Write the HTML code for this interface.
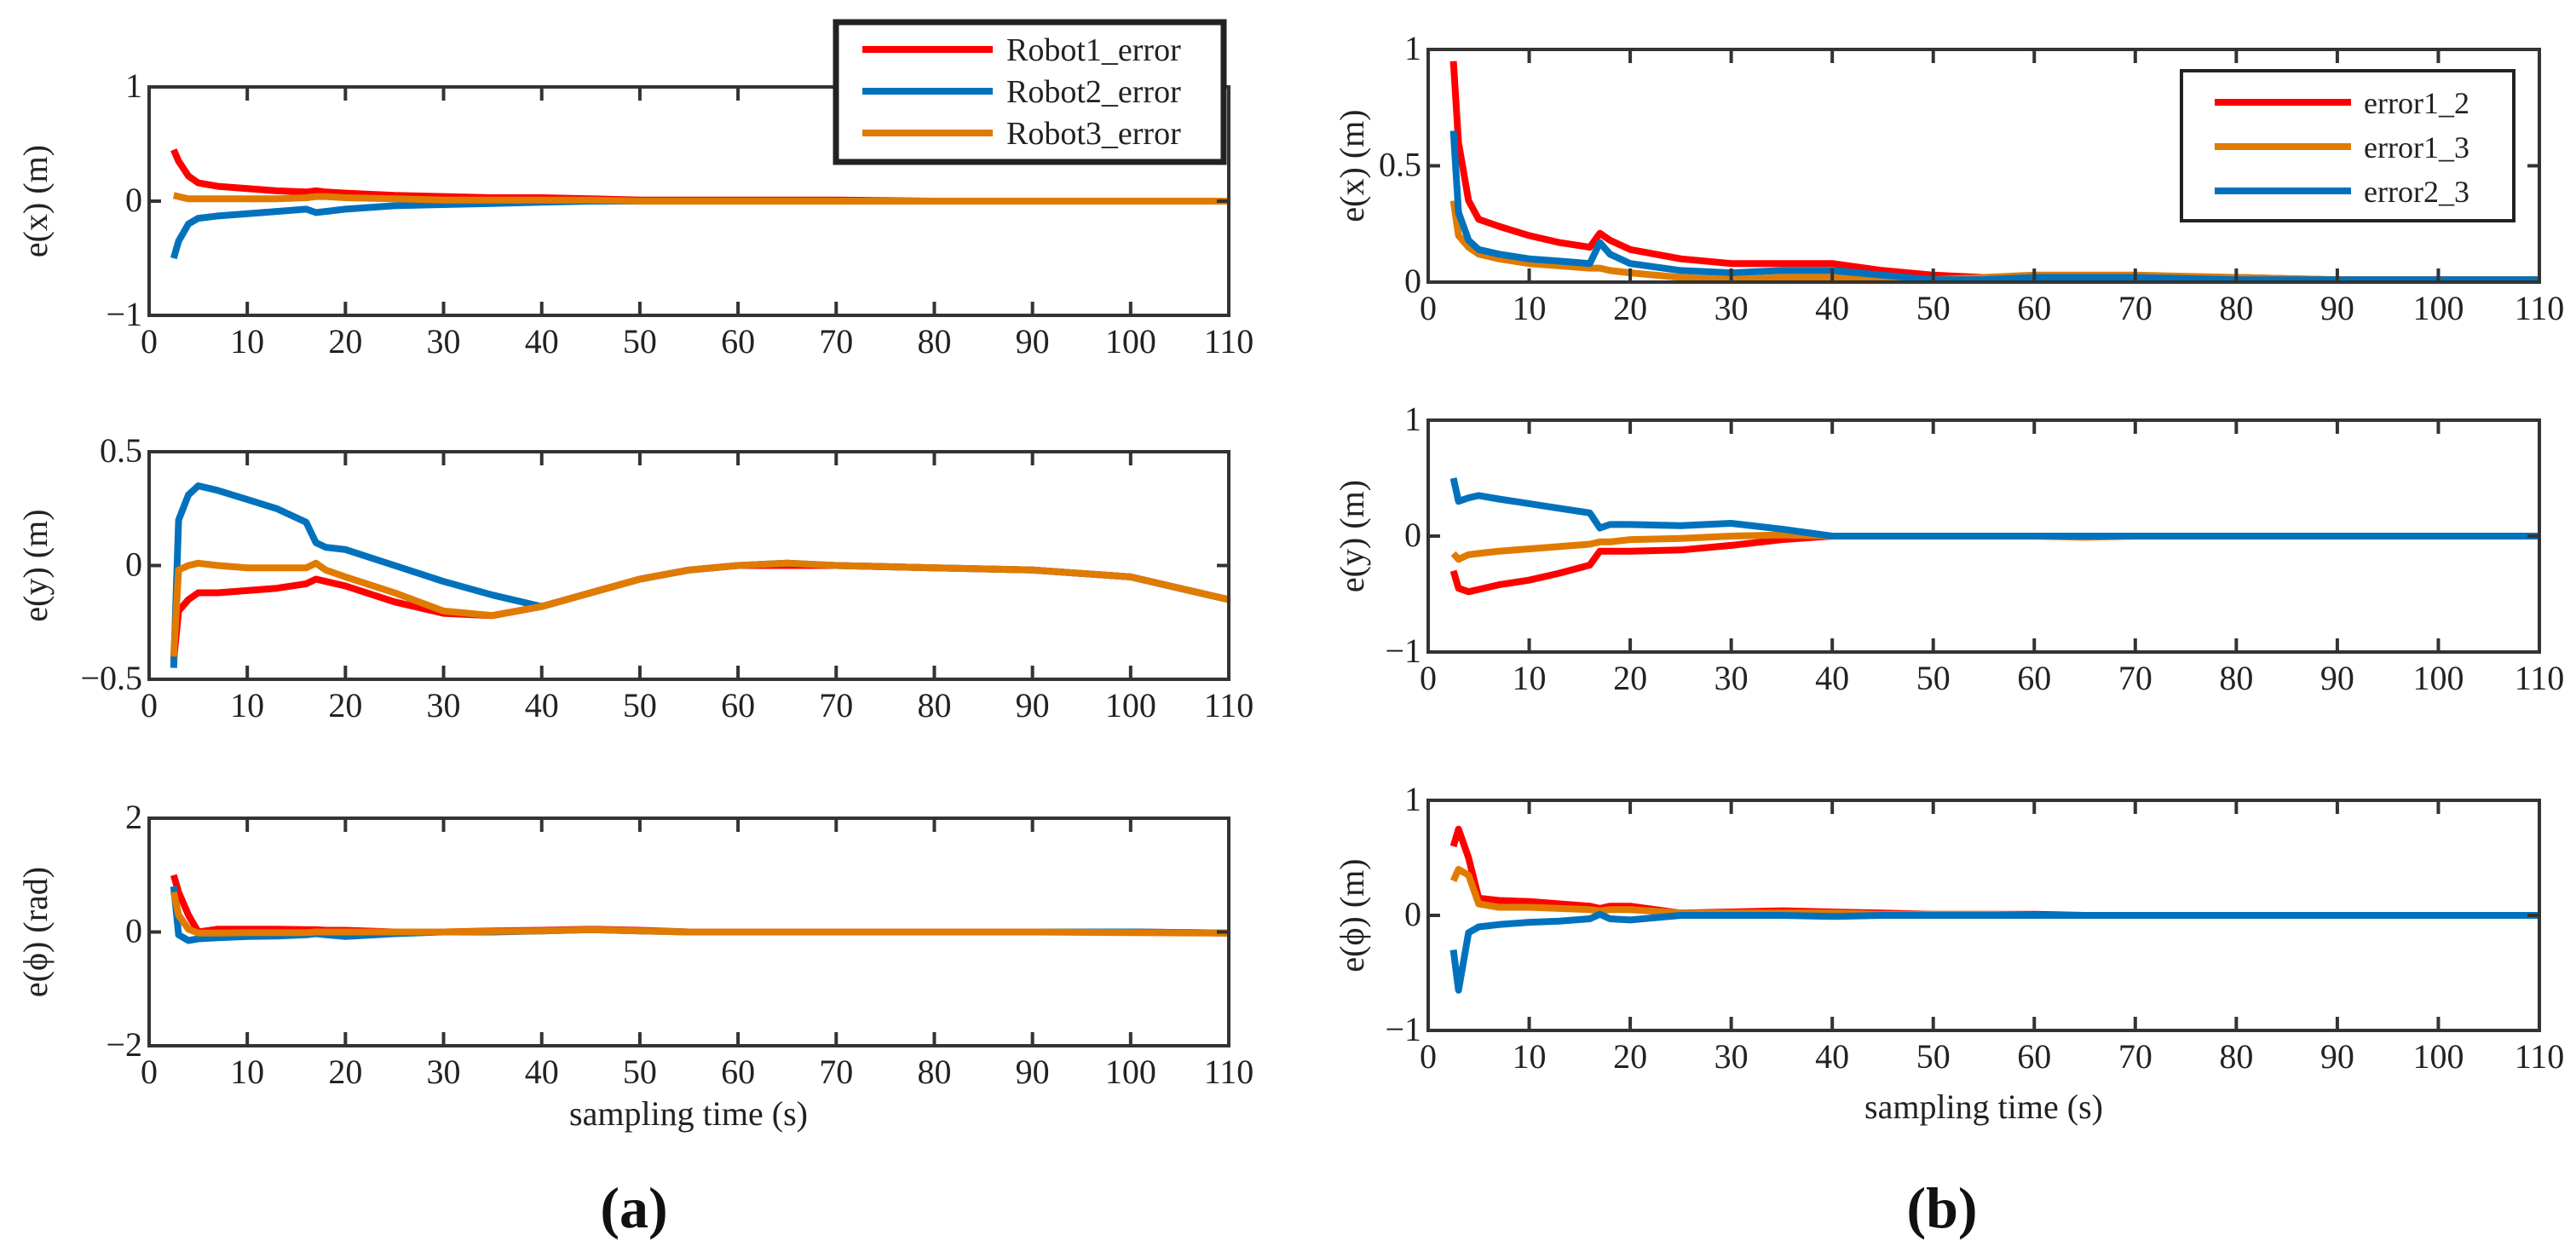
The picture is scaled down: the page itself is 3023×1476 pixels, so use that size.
<!DOCTYPE html>
<html><head><meta charset="utf-8">
<style>
html,body{margin:0;padding:0;background:#fff;}
svg{display:block;font-family:"Liberation Serif",serif;}
</style></head>
<body>
<svg id="fig" width="3023" height="1476" viewBox="0 0 3023 1476" xmlns="http://www.w3.org/2000/svg"></svg>
<script>
const times = [2.5,3,4,5,7,10,13,16,17,18,20,25,30,35,40,45,50,55,60,65,70,80,90,100,110];
const xTicks = [0,10,20,30,40,50,60,70,80,90,100,110];

const aX_R1 = [0.45,0.35,0.22,0.16,0.13,0.11,0.09,0.08,0.09,0.08,0.07,0.05,0.04,0.03,0.03,0.02,0.01,0.01,0.01,0.01,0.01,0,0,0,0];
const aX_R2 = [-0.5,-0.35,-0.2,-0.15,-0.13,-0.11,-0.09,-0.07,-0.1,-0.09,-0.07,-0.04,-0.03,-0.02,-0.01,0,0,0,0,0,0,0,0,0,0];
const aX_R3 = [0.05,0.04,0.02,0.02,0.02,0.02,0.02,0.03,0.04,0.04,0.03,0.02,0.01,0.01,0.01,0.01,0,0,0,0,0,0,0,0,0];

const aY_R1 = [-0.42,-0.2,-0.15,-0.12,-0.12,-0.11,-0.1,-0.08,-0.06,-0.07,-0.09,-0.16,-0.21,-0.22,-0.18,-0.12,-0.06,-0.02,0,0,0,-0.01,-0.02,-0.05,-0.15];
const aY_R2 = [-0.45,0.2,0.31,0.35,0.33,0.29,0.25,0.19,0.1,0.08,0.07,0,-0.07,-0.13,-0.18,-0.12,-0.06,-0.02,0,0.01,0,-0.01,-0.02,-0.05,-0.15];
const aY_R3 = [-0.4,-0.02,0,0.01,0,-0.01,-0.01,-0.01,0.01,-0.02,-0.05,-0.12,-0.2,-0.22,-0.18,-0.12,-0.06,-0.02,0,0.01,0,-0.01,-0.02,-0.05,-0.15];

const aP_R1 = [1.0,0.7,0.3,0,0.05,0.05,0.05,0.04,0.04,0.03,0.03,0,0,0.02,0.03,0.05,0.03,0,0,0,0,0,0,0,-0.02];
const aP_R2 = [0.8,-0.05,-0.15,-0.12,-0.1,-0.08,-0.07,-0.05,-0.03,-0.05,-0.08,-0.03,0,0,0.02,0.04,0.02,0,0,0,0,0,0,0,-0.02];
const aP_R3 = [0.7,0.3,0.05,-0.02,-0.02,-0.01,-0.01,-0.01,0,0,0,0,0,0.01,0.02,0.04,0.02,0,0,0,0,0,0,-0.01,-0.02];

const bX_12 = [0.95,0.6,0.35,0.27,0.24,0.2,0.17,0.15,0.21,0.18,0.14,0.1,0.08,0.08,0.08,0.05,0.03,0.02,0.02,0.02,0.02,0.02,0.01,0.01,0.01];
const bX_13 = [0.35,0.2,0.15,0.12,0.1,0.08,0.07,0.06,0.06,0.05,0.04,0.02,0.01,0.02,0.02,0.01,0.01,0.02,0.03,0.03,0.03,0.02,0.01,0.01,0.01];
const bX_23 = [0.65,0.3,0.18,0.14,0.12,0.1,0.09,0.08,0.17,0.12,0.08,0.05,0.04,0.05,0.05,0.03,0.01,0.01,0.02,0.02,0.02,0.01,0.01,0.01,0.01];

const bY_12 = [-0.3,-0.45,-0.48,-0.46,-0.42,-0.38,-0.32,-0.25,-0.13,-0.13,-0.13,-0.12,-0.08,-0.03,0,0,0,0,0,0,0,0,0,0,0];
const bY_13 = [-0.15,-0.2,-0.16,-0.15,-0.13,-0.11,-0.09,-0.07,-0.05,-0.05,-0.03,-0.02,0,0.01,0,0,0,0,0,-0.01,0,0,0,0,0];
const bY_23 = [0.5,0.3,0.33,0.35,0.32,0.28,0.24,0.2,0.07,0.1,0.1,0.09,0.11,0.06,0,0,0,0,0,0,0,0,0,0,0];

const bP_12 = [0.6,0.75,0.5,0.15,0.13,0.12,0.1,0.08,0.06,0.08,0.08,0.02,0.03,0.04,0.03,0.02,0.01,0.01,0.01,0,0,0,0,0,0];
const bP_13 = [0.3,0.4,0.35,0.1,0.07,0.07,0.06,0.05,0.04,0.05,0.05,0.02,0.02,0.02,0.02,0.01,0.01,0.01,0,0,0,0,0,0,0];
const bP_23 = [-0.3,-0.65,-0.15,-0.1,-0.08,-0.06,-0.05,-0.03,0.01,-0.03,-0.04,0,0,0,-0.01,0,0,0,0,0,0,0,0,0,0];

const RED="#FF0000", BLUE="#0072BD", ORANGE="#E07B00";
const NS="http://www.w3.org/2000/svg";
const svg=document.getElementById('fig');
function mk(tag,attrs,parent){const e=document.createElementNS(NS,tag);for(const k in attrs)e.setAttribute(k,attrs[k]);(parent||svg).appendChild(e);return e;}

function panel(name,L,R,T,B,ymin,ymax,yTicks,yTickLabels,ylabel,series){
  const g=mk('g',{});
  
  
  const xs=v=>L+(v-0)/(110-0)*(R-L);
  const ys=v=>B-(v-ymin)/(ymax-ymin)*(B-T);
  series.forEach(s=>{
    const pts=times.map((t,i)=>xs(t).toFixed(1)+','+ys(s.vals[i]).toFixed(1)).join(' ');
    const p=mk('polyline',{points:pts,fill:'none',stroke:s.color,'stroke-width':8,'stroke-linejoin':'round'},g);
    
    
  });
  const fr=mk('rect',{x:L,y:T,width:R-L,height:B-T,fill:'none',stroke:'#333','stroke-width':4},g);
  
  
  xTicks.forEach(v=>{
    const x=xs(v);
    mk('line',{x1:x,y1:B,x2:x,y2:B-16,stroke:'#333','stroke-width':4},g);
    mk('line',{x1:x,y1:T,x2:x,y2:T+16,stroke:'#333','stroke-width':4},g);
    const t=mk('text',{x:x,y:B+44,'font-size':40,'text-anchor':'middle',fill:'#222'},g);
    t.textContent=String(v);
    
    
  });
  yTicks.forEach((v,i)=>{
    const y=ys(v);
    mk('line',{x1:L,y1:y,x2:L+14,y2:y,stroke:'#333','stroke-width':4},g);
    mk('line',{x1:R,y1:y,x2:R-14,y2:y,stroke:'#333','stroke-width':4},g);
    const t=mk('text',{x:L-8,y:y+12,'font-size':40,'text-anchor':'end',fill:'#222'},g);
    t.textContent=yTickLabels[i];
    
    
  });
  const yl=mk('text',{x:0,y:0,'font-size':40,'text-anchor':'middle',fill:'#222',transform:`translate(${ylabel.x},${(T+B)/2}) rotate(-90)`},g);
  yl.textContent=ylabel.text;
  
  
}

panel('panel-a-ex',175,1442,102,370,-1,1,[-1,0,1],['\u22121','0','1'],{x:55,text:'e(x) (m)'},
  [{name:'robot1-ex',color:RED,vals:aX_R1},{name:'robot2-ex',color:BLUE,vals:aX_R2},{name:'robot3-ex',color:ORANGE,vals:aX_R3}]);
panel('panel-a-ey',175,1442,530,797,-0.5,0.5,[-0.5,0,0.5],['\u22120.5','0','0.5'],{x:55,text:'e(y) (m)'},
  [{name:'robot1-ey',color:RED,vals:aY_R1},{name:'robot2-ey',color:BLUE,vals:aY_R2},{name:'robot3-ey',color:ORANGE,vals:aY_R3}]);
panel('panel-a-ephi',175,1442,960,1227,-2,2,[-2,0,2],['\u22122','0','2'],{x:55,text:'e(\u03D5) (rad)'},
  [{name:'robot1-ephi',color:RED,vals:aP_R1},{name:'robot2-ephi',color:BLUE,vals:aP_R2},{name:'robot3-ephi',color:ORANGE,vals:aP_R3}]);

panel('panel-b-ex',1676,2980,58,331,0,1,[0,0.5,1],['0','0.5','1'],{x:1600,text:'e(x) (m)'},
  [{name:'error12-ex',color:RED,vals:bX_12},{name:'error13-ex',color:ORANGE,vals:bX_13},{name:'error23-ex',color:BLUE,vals:bX_23}]);
panel('panel-b-ey',1676,2980,493,765,-1,1,[-1,0,1],['\u22121','0','1'],{x:1600,text:'e(y) (m)'},
  [{name:'error12-ey',color:RED,vals:bY_12},{name:'error13-ey',color:ORANGE,vals:bY_13},{name:'error23-ey',color:BLUE,vals:bY_23}]);
panel('panel-b-ephi',1676,2980,939,1209,-1,1,[-1,0,1],['\u22121','0','1'],{x:1600,text:'e(\u03D5) (m)'},
  [{name:'error12-ephi',color:RED,vals:bP_12},{name:'error13-ephi',color:ORANGE,vals:bP_13},{name:'error23-ephi',color:BLUE,vals:bP_23}]);

function legend(name,x1,y1,x2,y2,lx1,lx2,tx,entries,fs,bw){
  const g=mk('g',{});
  
  
  mk('rect',{x:x1,y:y1,width:x2-x1,height:y2-y1,fill:'#fff',stroke:'#222','stroke-width':bw},g);
  entries.forEach(e=>{
    const l=mk('line',{x1:lx1,y1:e.y,x2:lx2,y2:e.y,stroke:e.color,'stroke-width':8},g);
    
    
    const t=mk('text',{x:tx,y:e.y+13,'font-size':fs,fill:'#222'},g);
    t.textContent=e.label;
    
    
  });
}
legend('legend-a',981,26,1436,190,1012,1165,1181,
  [{y:58,color:RED,label:'Robot1_error'},{y:107,color:BLUE,label:'Robot2_error'},{y:156,color:ORANGE,label:'Robot3_error'}],38,7);
legend('legend-b',2560,83,2950,259,2599,2759,2774,
  [{y:120,color:RED,label:'error1_2'},{y:172,color:ORANGE,label:'error1_3'},{y:224,color:BLUE,label:'error2_3'}],36,4);

function txt(name,x,y,s,fs,extra){const t=mk('text',Object.assign({x:x,y:y,'font-size':fs,'text-anchor':'middle',fill:'#222'},extra||{}));t.textContent=s;}
txt('x-axis-title-a',808,1320,'sampling time (s)',40);
txt('x-axis-title-b',2328,1312,'sampling time (s)',40);
txt('caption-a',744,1440,'(a)',68,{'font-weight':'bold',fill:'#111'});
txt('caption-b',2279,1440,'(b)',68,{'font-weight':'bold',fill:'#111'});
</script>
</body></html>
